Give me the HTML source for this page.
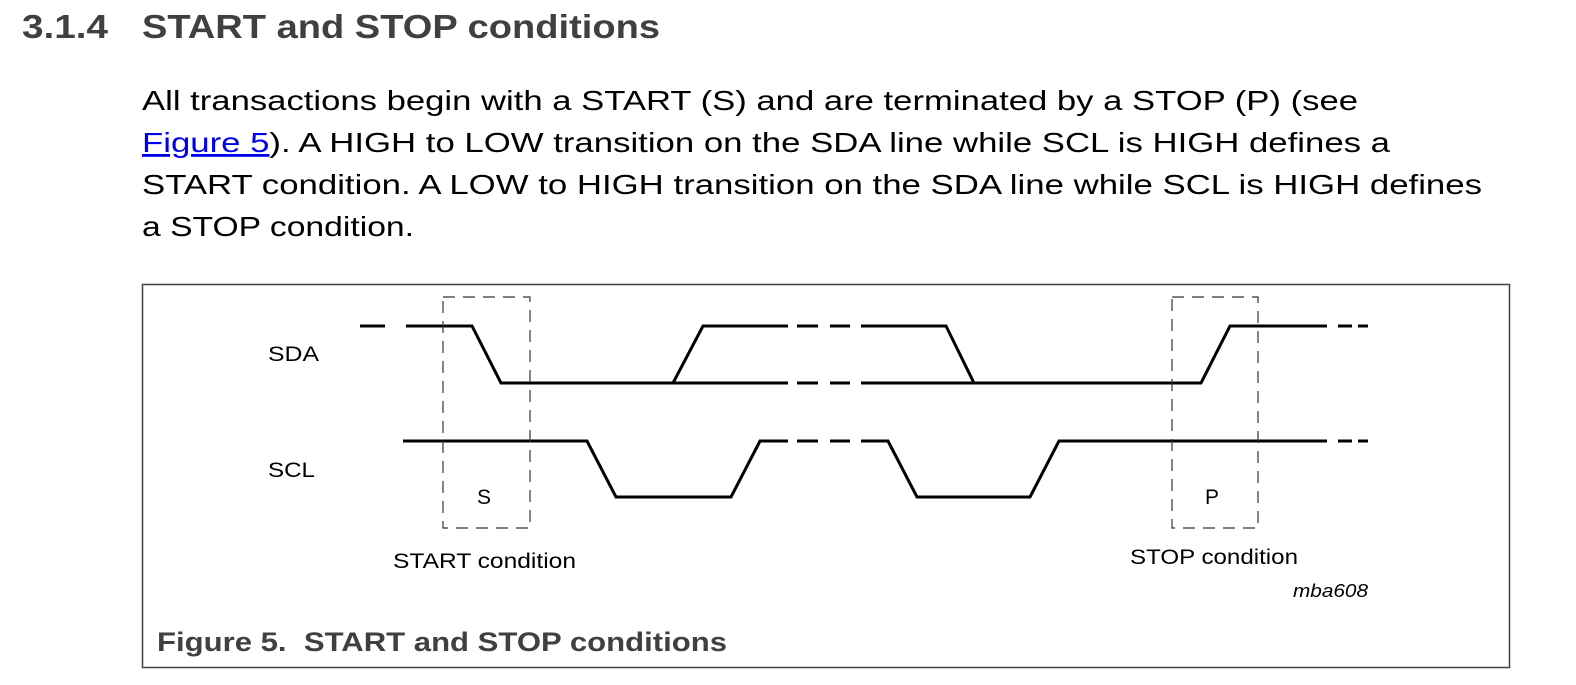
<!DOCTYPE html>
<html><head><meta charset="utf-8"><style>
html,body{margin:0;padding:0;background:#fff;overflow:hidden;width:1576px;height:685px;}
svg{display:block;}
</style></head><body>
<svg width="1576" height="685" xmlns="http://www.w3.org/2000/svg" font-family="Liberation Sans, Arial, sans-serif">
<text x="22" y="38" font-size="33" font-weight="bold" fill="#404040" textLength="86" lengthAdjust="spacingAndGlyphs">3.1.4</text>
<text x="142" y="38" font-size="33" font-weight="bold" fill="#404040" textLength="518" lengthAdjust="spacingAndGlyphs">START and STOP conditions</text>
<g font-size="28" fill="#000">
<text x="142" y="110" textLength="1216" lengthAdjust="spacingAndGlyphs">All transactions begin with a START (S) and are terminated by a STOP (P) (see</text>
<text x="142" y="152" textLength="1248" lengthAdjust="spacingAndGlyphs"><tspan fill="#0000ee" text-decoration="underline">Figure 5</tspan>). A HIGH to LOW transition on the SDA line while SCL is HIGH defines a</text>
<text x="142" y="194" textLength="1340" lengthAdjust="spacingAndGlyphs">START condition. A LOW to HIGH transition on the SDA line while SCL is HIGH defines</text>
<text x="142" y="236" textLength="272" lengthAdjust="spacingAndGlyphs">a STOP condition.</text>
</g>
<rect x="142.5" y="284.5" width="1367" height="383" fill="none" stroke="#404040" stroke-width="1.5"/>
<g fill="none" stroke="#000" stroke-width="3" stroke-linejoin="miter">
<polyline points="406,326 472,326 501,383 788,383"/>
<polyline points="673,383 703,326 788,326"/>
<polyline points="861,326 946,326 974,383 1201,383 1230,326 1327,326"/>
<polyline points="861,383 974,383"/>
<polyline points="403,441 587,441 616,497 731,497 760,441 788,441"/>
<polyline points="861,441 888,441 917,497 1030,497 1059,441 1327,441"/>
<g>
<line x1="360" y1="326" x2="385" y2="326"/>
<line x1="797" y1="326" x2="818" y2="326"/><line x1="830" y1="326" x2="850" y2="326"/>
<line x1="797" y1="383" x2="818" y2="383"/><line x1="830" y1="383" x2="850" y2="383"/>
<line x1="797" y1="441" x2="818" y2="441"/><line x1="830" y1="441" x2="850" y2="441"/>
<line x1="1338" y1="326" x2="1352" y2="326"/><line x1="1358" y1="326" x2="1368" y2="326"/>
<line x1="1338" y1="441" x2="1352" y2="441"/><line x1="1358" y1="441" x2="1368" y2="441"/>
</g>
</g>
<g fill="none" stroke="#333" stroke-width="1.2" stroke-dasharray="12,8">
<rect x="443" y="297" width="87" height="231"/>
<rect x="1172" y="297" width="86" height="231"/>
</g>
<g font-size="21" fill="#000">
<text x="268" y="361" textLength="51" lengthAdjust="spacingAndGlyphs">SDA</text>
<text x="268" y="477" textLength="47" lengthAdjust="spacingAndGlyphs">SCL</text>
<text x="477" y="504">S</text>
<text x="1205" y="504">P</text>
<text x="393" y="568" textLength="183" lengthAdjust="spacingAndGlyphs">START condition</text>
<text x="1130" y="564" textLength="168" lengthAdjust="spacingAndGlyphs">STOP condition</text>
<text x="1293" y="597" font-size="18" font-style="italic" textLength="75" lengthAdjust="spacingAndGlyphs">mba608</text>
</g>
<text x="157" y="651" font-size="27" font-weight="bold" fill="#404040" textLength="570" lengthAdjust="spacingAndGlyphs" xml:space="preserve">Figure 5.  START and STOP conditions</text>
</svg>
</body></html>
